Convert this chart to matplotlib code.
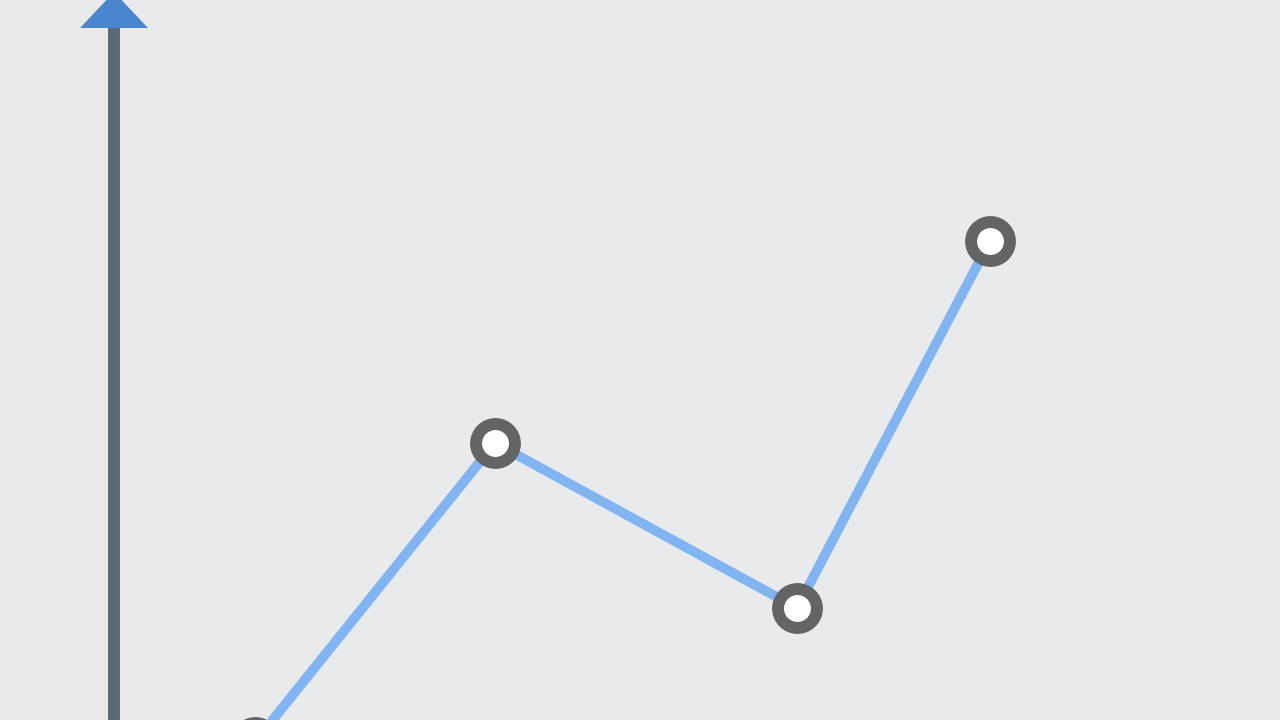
import matplotlib
matplotlib.use("Agg")
import matplotlib.pyplot as plt
from matplotlib.patches import Polygon

# --- data (in pixel-like units) ---
x_vals = [255, 495, 797, 990]
y_vals = [-22, 277, 112, 479]

BG = '#e8eaeb'
LINE_C = '#80b4f2'
MARK_C = '#626466'
AXIS_C = '#5b6a77'
ARROW_C = '#4a86d0'

fig = plt.figure(figsize=(12.8, 7.2), dpi=100)
fig.patch.set_facecolor(BG)
ax = fig.add_axes([0, 0, 1, 1])
ax.set_facecolor(BG)
ax.set_xlim(0, 1280)
ax.set_ylim(0, 720)
ax.axis('off')

# y axis with arrow head
ax.plot([114, 114], [-10, 694], color=AXIS_C, lw=8.6, solid_capstyle='butt', zorder=2)
ax.add_patch(Polygon([[80, 692], [148, 692], [114, 728]], closed=True,
                     facecolor=ARROW_C, edgecolor='none', zorder=3))

# series
ax.plot(x_vals, y_vals, color=LINE_C, lw=7, zorder=4, solid_capstyle='round')
ax.plot(x_vals, y_vals, linestyle='none', marker='o', markersize=28,
        markerfacecolor='white', markeredgecolor=MARK_C, markeredgewidth=8.6,
        zorder=5, clip_on=False)

fig.savefig('out.png', dpi=100, facecolor=BG)
